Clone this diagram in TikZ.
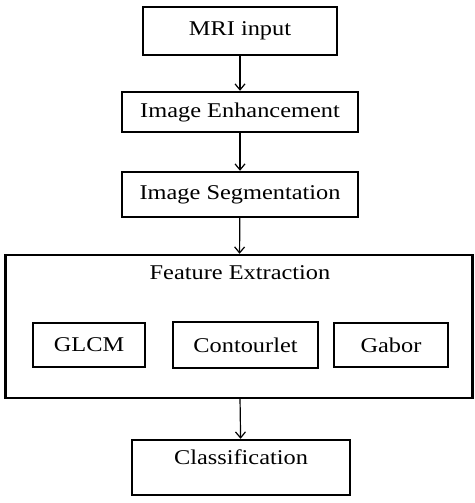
\documentclass[tikz,border=0pt]{standalone}
\usepackage{fontspec}
\setmainfont{Liberation Serif}
\usetikzlibrary{arrows.meta}
\newcommand{\wide}[1]{\scalebox{1.16}[1]{#1}}

\begin{document}
\begin{tikzpicture}[x=1pt,y=-1pt,
    stagebox/.style={draw,line width=2.4pt,inner sep=0pt,font=\fontsize{21}{24}\selectfont},
    flow/.style={-{Straight Barb[length=6pt,width=10pt]},line width=1.2pt}]
          \useasboundingbox (0,0) rectangle (474,503);
          \node[stagebox,minimum width=194pt,minimum height=48pt] (mri) at (240,31) {\wide{MRI input}};
          \node[stagebox,minimum width=236pt,minimum height=40pt] (enh) at (240,112) {\wide{Image Enhancement}};
          \node[stagebox,minimum width=236pt,minimum height=45pt] (seg) at (240,194.5) {\wide{Image Segmentation}};
          \node[stagebox,minimum width=467pt,minimum height=143pt] (feat) at (239,326.5) {};
          \node[font=\fontsize{21}{24}\selectfont] (feattitle) at (240,273) {\wide{Feature Extraction}};
          \node[stagebox,minimum width=112pt,minimum height=44pt] (glcm) at (89,345) {\wide{GLCM}};
          \node[stagebox,minimum width=145pt,minimum height=46pt] (cont) at (245.5,345) {\wide{Contourlet}};
          \node[stagebox,minimum width=114pt,minimum height=44pt] (gab) at (391,345) {\wide{Gabor}};
          \node[stagebox,minimum width=218pt,minimum height=55pt,text depth=20pt] (cls) at (241,467.5) {\wide{Classification}};
          \draw[flow] (mri) -- (enh);
          \draw[flow] (enh) -- (seg);
          \draw[flow] (seg) -- (feat);
          \draw[flow] (feat) -- (cls);
        \end{tikzpicture}
\end{document}
